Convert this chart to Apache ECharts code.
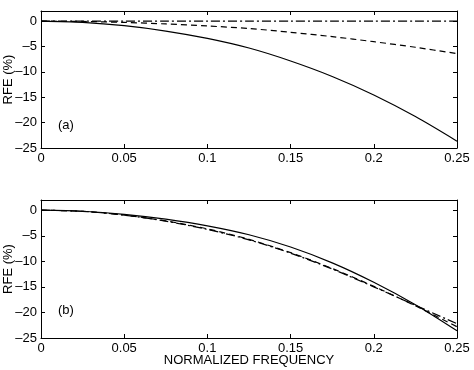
<!DOCTYPE html>
<html><head><meta charset="utf-8">
<script src="https://cdn.jsdelivr.net/npm/echarts@6/dist/echarts.min.js"></script>
<style>html,body{margin:0;padding:0;background:#fff}#c{width:474px;height:370px}</style>
</head><body><div id="c"></div>
<script>
const freq = [0, 0.025, 0.05, 0.075, 0.1, 0.125, 0.15, 0.175, 0.2, 0.225, 0.25];
const xTicks = [0, 0.05, 0.1, 0.15, 0.2, 0.25];
const yTicks = [0, -5, -10, -15, -20, -25];
// panel (a)
const aSolid   = [0, -0.25, -0.9, -1.95, -3.4, -5.3, -7.85, -10.9, -14.55, -18.8, -23.65];
const aDashed  = [0, -0.06, -0.25, -0.55, -0.95, -1.45, -2.2, -3.05, -4.05, -5.15, -6.4];
const aDashDot = [0, 0, 0, 0, 0, 0, 0, 0, 0, 0, 0];
// panel (b)
const bSolid   = [0, -0.2, -0.8, -1.75, -3.05, -4.8, -7.2, -10.3, -14.1, -18.5, -23.6];
const bDashed  = [0, -0.22, -0.95, -2.1, -3.65, -5.7, -8.3, -11.4, -14.9, -18.7, -22.8];
const bDashDot = [0, -0.22, -0.97, -2.15, -3.75, -5.8, -8.4, -11.5, -15.0, -18.6, -22.2];

const FONT = 'Liberation Sans';
const pair = v => freq.map((f, i) => [f, v[i]]);
const minus = v => String(v).replace('-', '\u2013');

function xAx(gi, pos, showLabels, name) {
  return {
    type: 'value', gridIndex: gi, position: pos, min: 0, max: 0.25, interval: 0.05,
    splitLine: {show: false},
    axisLine: {show: true, onZero: false, lineStyle: {color: '#000', width: 1}},
    axisTick: {show: true, inside: true, length: 4, lineStyle: {color: '#000'}},
    axisLabel: {show: showLabels, color: '#000', fontSize: 13, fontFamily: FONT, margin: 4,
      formatter: v => xTicks.some(t => Math.abs(t - v) < 1e-9) ? String(+v.toFixed(2)) : ''},
    name: name || '', nameLocation: 'middle', nameGap: 16, nameMoveOverlap: false,
    nameTextStyle: {color: '#000', fontSize: 13, fontFamily: FONT}
  };
}
function yAx(gi, pos, showLabels, name) {
  return {
    type: 'value', gridIndex: gi, position: pos, min: -25, max: 2, interval: 5,
    splitLine: {show: false},
    axisLine: {show: true, onZero: false, lineStyle: {color: '#000', width: 1}},
    axisTick: {show: true, inside: true, length: 4, lineStyle: {color: '#000'}},
    axisLabel: {show: showLabels, color: '#000', fontSize: 13, fontFamily: FONT, margin: 4,
      formatter: v => yTicks.includes(v) ? minus(v) : ''},
    name: name || '', nameLocation: 'middle', nameGap: 26, nameMoveOverlap: false,
    nameTextStyle: {color: '#000', fontSize: 13, fontFamily: FONT}
  };
}
function line(xi, yi, data, type) {
  return {
    type: 'line', xAxisIndex: xi, yAxisIndex: yi, data: pair(data),
    showSymbol: false, smooth: 0.3, silent: true, z: 1,
    lineStyle: {color: '#000', width: 1.2, type: type}
  };
}
const chart = echarts.init(document.getElementById('c'), null, {renderer: 'canvas'});
chart.setOption({
  animation: false,
  backgroundColor: '#fff',
  grid: [
    {left: 41, right: 17, top: 11, height: 137, containLabel: false, outerBoundsMode: 'none'},
    {left: 41, right: 17, top: 200, height: 138, containLabel: false, outerBoundsMode: 'none'}
  ],
  xAxis: [
    xAx(0, 'bottom', true), xAx(0, 'top', false),
    xAx(1, 'bottom', true, 'NORMALIZED FREQUENCY'), xAx(1, 'top', false)
  ],
  yAxis: [
    yAx(0, 'left', true, 'RFE (%)'), yAx(0, 'right', false),
    yAx(1, 'left', true, 'RFE (%)'), yAx(1, 'right', false)
  ],
  series: [
    line(0, 0, aSolid, 'solid'),
    line(0, 0, aDashed, [6, 4]),
    line(0, 0, aDashDot, [9, 3, 2, 3]),
    line(2, 2, bSolid, 'solid'),
    line(2, 2, bDashed, [6, 4]),
    line(2, 2, bDashDot, [9, 3, 2, 3])
  ],
  graphic: [
    {type: 'text', left: 58, top: 119, style: {text: '(a)', font: '13px "Liberation Sans"', fill: '#000'}},
    {type: 'text', left: 58, top: 304, style: {text: '(b)', font: '13px "Liberation Sans"', fill: '#000'}}
  ]
});
</script></body></html>
